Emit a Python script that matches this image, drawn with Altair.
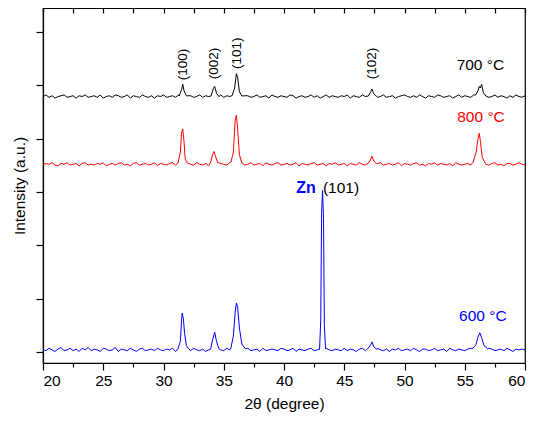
import altair as alt
import pandas as pd

# ---- data ----
series_names = ["600 °C", "700 °C", "800 °C"]
series_colors = ["#0000ff", "#000000", "#ff0000"]
baselines = [0.04, 4.79, 3.52]
x_start = 20.0
x_step = 0.25
noise_unit = 0.015

noise_600 = [1,-1,2,0,-2,1,3,-1,0,2, -1,1,-2,2,0,3,-1,1,0,-2, 2,1,-1,0,3,-2,1,0,-1,2,
             0,-2,1,2,-1,0,1,-1,2,0, -1,1,0,2,-2,1,-1,0,1,-1, 2,0,-1,1,-2,0,2,-1,1,0,
             -1,2,0,-2,1,1,-1,0,2,-1, 0,1,-2,2,-1,0,1,0,-1,2, 1,-1,0,2,-2,1,0,-1,1,2,
             -1,0,1,-2,2,0,-1,1,0,-1, 2,-1,1,0,-2,1,2,-1,0,1, -1,2,0,-1,1,-2,1,0,2,-1,
             0,1,-1,2,0,-2,1,1,-1,0, 2,-1,0,1,-2,2,0,-1,1,0, -1,1,2,-1,0,1,-2,0,2,1,
             -1,0,1,-1,2,0,-2,1,0,1, 0]
noise_700 = [0,2,-1,1,-2,0,1,2,-1,0, 1,-2,1,0,2,-1,0,1,-1,2, -2,0,1,-1,2,1,-1,0,2,-2,
             1,0,-1,2,0,-1,1,-2,1,0, 2,-1,0,1,-1,2,0,-2,1,1, -1,0,2,-1,1,0,-2,1,0,2,
             -1,1,0,-1,2,-2,0,1,1,-1, 0,2,-1,0,1,-2,2,0,-1,1, 0,-1,2,1,-2,0,1,-1,0,2,
             -1,1,-2,0,2,-1,1,0,-1,1, 0,2,-2,1,0,-1,2,0,1,-1, 1,-1,0,2,-1,0,1,-2,0,1,
             2,0,-1,1,-1,2,0,-2,1,0, -1,2,1,-1,0,1,-2,0,2,-1, 1,0,-1,2,-2,1,0,1,-1,0,
             2,-1,1,0,-2,1,-1,2,0,-1, 1]
noise_800 = [-1,1,0,2,-1,-2,1,0,2,-1, 0,1,-2,1,2,-1,0,-1,1,0, 2,-2,0,1,-1,1,2,-1,0,-2,
             1,2,-1,0,1,-1,0,2,-2,1, 0,-1,1,2,-1,0,-2,1,1,0, -1,2,0,-1,1,-2,0,2,-1,1,
             0,-1,2,0,-2,1,1,-1,0,2, -1,0,1,-2,2,0,-1,1,2,-1, 0,1,-1,0,2,-2,1,0,-1,1,
             2,-1,0,1,-2,1,0,2,-1,0, 1,-2,1,0,-1,2,0,-1,1,0, -2,1,2,-1,0,1,-1,0,2,-2,
             1,0,-1,1,2,-1,0,-2,1,0, 2,-1,1,0,-1,1,-2,2,0,-1, 0,1,-1,2,0,-2,1,0,-1,1,
             2,-1,0,-2,1,1,-1,0,2,0, -1]

# peak profiles (x in degrees, y in a.u.)
peaks_600 = [
    ([31.2, 31.4, 31.5, 31.55, 31.65, 31.75, 31.9, 32.1], [0.06, 0.20, 0.60, 0.73, 0.62, 0.35, 0.12, 0.06]),
    ([33.9, 34.1, 34.25, 34.4, 34.6], [0.05, 0.25, 0.37, 0.20, 0.06]),
    ([35.6, 35.8, 35.95, 36.05, 36.15, 36.3, 36.5, 36.8], [0.08, 0.30, 0.75, 0.92, 0.85, 0.45, 0.15, 0.06]),
    ([42.95, 43.05, 43.12, 43.2, 43.28, 43.35, 43.45], [0.05, 0.60, 2.60, 3.03, 2.50, 0.50, 0.06]),
    ([46.9, 47.15, 47.3, 47.45, 47.7], [0.05, 0.12, 0.19, 0.10, 0.05]),
    ([55.6, 55.9, 56.1, 56.25, 56.4, 56.6, 56.9], [0.06, 0.12, 0.28, 0.36, 0.27, 0.12, 0.06]),
]
peaks_700 = [
    ([31.3, 31.5, 31.6, 31.7, 31.9], [4.80, 4.92, 5.02, 4.90, 4.80]),
    ([33.95, 34.15, 34.25, 34.4, 34.6], [4.80, 4.95, 4.98, 4.85, 4.79]),
    ([35.7, 35.9, 36.05, 36.15, 36.3, 36.5], [4.81, 4.95, 5.22, 5.15, 4.88, 4.80]),
    ([47.0, 47.2, 47.3, 47.45, 47.7], [4.80, 4.88, 4.93, 4.84, 4.79]),
    ([55.9, 56.1, 56.2, 56.3, 56.4, 56.55, 56.75], [4.82, 4.90, 4.98, 4.95, 5.02, 4.86, 4.80]),
]
peaks_800 = [
    ([31.2, 31.4, 31.5, 31.6, 31.7, 31.8, 32.0], [3.54, 3.75, 4.12, 4.18, 3.95, 3.62, 3.54]),
    ([33.9, 34.1, 34.2, 34.3, 34.5], [3.55, 3.72, 3.76, 3.68, 3.55]),
    ([35.6, 35.8, 35.95, 36.05, 36.15, 36.3, 36.5], [3.56, 3.75, 4.35, 4.44, 4.20, 3.70, 3.55]),
    ([47.0, 47.2, 47.3, 47.45, 47.7], [3.54, 3.62, 3.67, 3.58, 3.53]),
    ([55.7, 55.95, 56.1, 56.2, 56.3, 56.45, 56.7], [3.56, 3.75, 4.00, 4.10, 3.95, 3.65, 3.54]),
]

hkl_labels = ["(100)", "(002)", "(101)", "(102)"]
hkl_x = [31.6, 34.2, 36.1, 47.3]
hkl_y = [5.39, 5.41, 5.60, 5.41]

temp_labels = ["700 °C", "800 °C", "600 °C", "(101)"]
temp_x = [56.3, 56.35, 56.5, 44.73]
temp_y = [5.39, 4.40, 0.67, 3.07]
temp_colors = ["#000000", "#ff0000", "#0000ff", "#000000"]

zn_label = ["Zn"]
zn_x = [41.83]
zn_y = [3.07]

x_ticks = [20, 22.5, 25, 27.5, 30, 32.5, 35, 37.5, 40, 42.5, 45, 47.5, 50, 52.5, 55, 57.5, 60]
y_ticks = [0, 1, 2, 3, 4, 5, 6]


def build(name, base, noise, peaks):
    windows = [(min(px), max(px)) for px, _ in peaks]
    rows = []
    for i, n in enumerate(noise):
        x = x_start + x_step * i
        if any(lo <= x <= hi for lo, hi in windows):
            continue
        rows.append((x, base + n * noise_unit))
    for px, py in peaks:
        rows.extend(zip(px, py))
    rows.sort()
    return pd.DataFrame({"x": [r[0] for r in rows], "y": [r[1] for r in rows], "series": name})


lines_df = pd.concat([
    build(series_names[0], baselines[0], noise_600, peaks_600),
    build(series_names[1], baselines[1], noise_700, peaks_700),
    build(series_names[2], baselines[2], noise_800, peaks_800),
], ignore_index=True)

xscale = alt.Scale(domain=[20, 60], nice=False, zero=False)
yscale = alt.Scale(domain=[-0.206, 6.45], nice=False, zero=False)
FONT = "Liberation Sans"

yaxis = alt.Axis(values=y_ticks, labels=False, tickSize=7, grid=False,
                 title="Intensity (a.u.)", titlePadding=8, titleFontSize=15.5,
                 titleFontWeight="normal", domainColor="black", tickColor="black")

bottom_axis = alt.Axis(values=x_ticks, grid=False, title="2θ (degree)",
                       labelExpr="datum.value % 5 === 0 ? datum.label : ''",
                       tickSize={"condition": {"test": "datum.value % 5 === 0", "value": 7}, "value": 4},
                       labelFontSize=15.5, titleFontSize=15.5, titleFontWeight="normal",
                       labelPadding=3, titlePadding=8, domainColor="black", tickColor="black")

top_axis = alt.Axis(orient="top", values=x_ticks, labels=False, domain=False, grid=False,
                    title=None, tickSize=5, offset=-5, tickColor="black")

lines = alt.Chart(lines_df).mark_line(strokeWidth=1, interpolate="linear").encode(
    x=alt.X("x:Q", scale=xscale, axis=bottom_axis),
    y=alt.Y("y:Q", scale=yscale, axis=yaxis),
    color=alt.Color("series:N", scale=alt.Scale(domain=series_names, range=series_colors), legend=None),
    order="x:Q",
)

hkl_df = pd.DataFrame({"label": hkl_labels, "x": hkl_x, "y": hkl_y})
hkl = alt.Chart(hkl_df).mark_text(angle=270, fontSize=13.5, font=FONT, align="center",
                                  baseline="middle", color="black").encode(
    x=alt.X("x:Q", scale=xscale, axis=top_axis),
    y=alt.Y("y:Q", scale=yscale, axis=yaxis),
    text="label:N",
)

temp_df = pd.DataFrame({"label": temp_labels, "x": temp_x, "y": temp_y, "c": temp_colors})
temps = alt.Chart(temp_df).mark_text(fontSize=15.5, font=FONT, align="center", baseline="middle").encode(
    x=alt.X("x:Q", scale=xscale, axis=None),
    y=alt.Y("y:Q", scale=yscale, axis=yaxis),
    text="label:N",
    color=alt.Color("c:N", scale=None),
)

zn_df = pd.DataFrame({"label": zn_label, "x": zn_x, "y": zn_y})
zn = alt.Chart(zn_df).mark_text(fontSize=16, font=FONT, fontWeight="bold", align="center",
                                baseline="middle", color="#0000ff").encode(
    x=alt.X("x:Q", scale=xscale, axis=None),
    y=alt.Y("y:Q", scale=yscale, axis=yaxis),
    text="label:N",
)

chart = alt.layer(lines, hkl, temps, zn).resolve_axis(x="independent").properties(
    width=482, height=355,
    autosize=alt.AutoSizeParams(type="none"),
    padding={"left": 35, "top": 0, "right": 10, "bottom": 55},
).configure_view(stroke="black", strokeWidth=1.2).configure_axis(
    labelFont=FONT, titleFont=FONT, labelColor="black", titleColor="black",
    domainWidth=1.2, tickWidth=1.2,
)

chart.save("out.html", embed_options={"renderer": "svg", "actions": False})
